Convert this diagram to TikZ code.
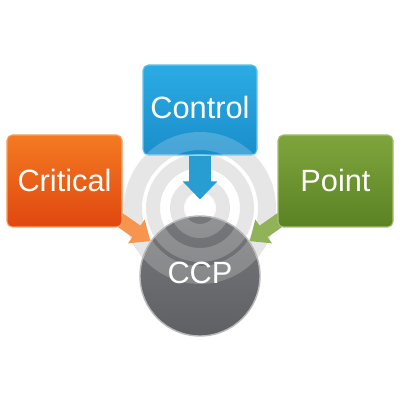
\documentclass[tikz,border=0pt]{standalone}
\usepackage{fontspec}
\setmainfont{Liberation Sans}
\usetikzlibrary{arrows.meta,backgrounds}
\definecolor{critA}{HTML}{F47A22}
\definecolor{critB}{HTML}{E0470F}
\definecolor{ctrlA}{HTML}{2BABE3}
\definecolor{ctrlB}{HTML}{1A8ECB}
\definecolor{pntA}{HTML}{7EA53C}
\definecolor{pntB}{HTML}{5A8224}
\definecolor{ccpA}{HTML}{77787B}
\definecolor{ccpB}{HTML}{5F6063}
\definecolor{ringgray}{HTML}{E6E6E7}

\begin{document}
\begin{tikzpicture}[
  card/.style={rounded corners=3pt, minimum width=2.3cm, minimum height=1.84cm,
    text=white, font=\fontsize{17.5}{20}\selectfont, line width=0.6pt},
  disc/.style={circle, minimum size=2.4cm, inner sep=0pt, text=white,
    font=\fontsize{17.5}{20}\selectfont, draw=gray!55, line width=0.8pt,
    top color=ccpA, bottom color=ccpB},
  fatarrow/.style={line width=8pt, #1, shorten <=-10pt,
    -{Triangle[length=0.34cm, width=16pt]}},
  glare/.style={white, opacity=0.2, even odd rule}
]
\useasboundingbox (0,0) rectangle (8,8);
\coordinate (hub) at (4.0,3.84);

% the four parts
\node[card, draw=critA!70!white, top color=critA, bottom color=critB] (critical) at (1.29,4.38) {Critical};
\node[card, draw=ctrlA!70!white, top color=ctrlA, bottom color=ctrlB, minimum width=2.28cm, minimum height=1.8cm] (control) at (4.0,5.8) {};
\node[card, draw=pntA!70!white, top color=pntA, bottom color=pntB] (point) at (6.71,4.38) {Point};
\node[disc] (ccp) at (4.0,2.48) {};

% rings reflected in the blue card and the disc
\foreach \shape in {(control.south west) rectangle (control.north east), (ccp.center) circle (1.19cm)} {
  \begin{scope}
    \clip[rounded corners=3pt] \shape;
    \fill[glare] (hub) circle (1.52) circle (1.16);
    \fill[glare] (hub) circle (1.08) circle (0.80);
    \fill[glare] (hub) circle (0.60) circle (0.32);
  \end{scope}
}
\node[text=white, font=\fontsize{17.5}{20}\selectfont] (controltext) at ([yshift=0.05cm]control.center) {Control};
\node[text=white, font=\fontsize{17.5}{20}\selectfont] (ccptext) at ([yshift=0.06cm]ccp.center) {CCP};

\begin{scope}[on background layer]
  % rings
  \fill[ringgray, even odd rule] (hub) circle (1.52) circle (1.16);
  \fill[ringgray, even odd rule] (hub) circle (1.08) circle (0.80);
  \fill[ringgray, even odd rule] (hub) circle (0.60) circle (0.32);
  % arrows
  \draw[fatarrow=critA!80!white] (critical) -- (ccp);
  \draw[fatarrow=pntA!85!white] (point) -- (ccp);
  \draw[line width=12.5pt, ctrlA!92!black, shorten >=9pt,
    -{Triangle[length=0.36cm, width=19pt]}] (control) -- (ccp);
\end{scope}
\end{tikzpicture}
\end{document}
